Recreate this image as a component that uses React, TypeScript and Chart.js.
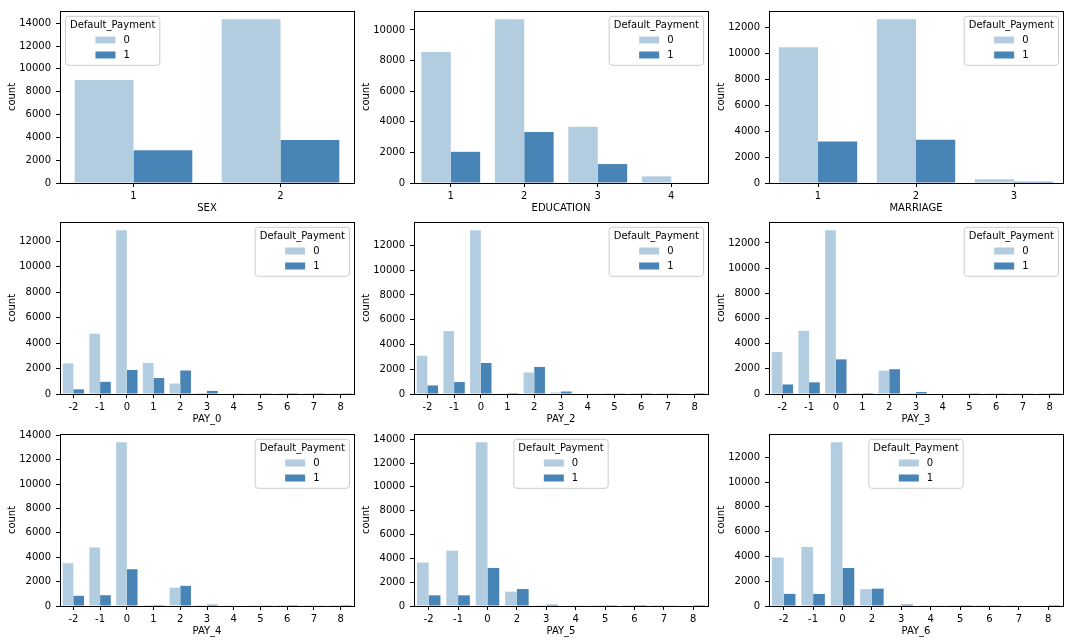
import React, { useEffect, useRef } from "react";
import { Chart, registerables } from "chart.js";

Chart.register(...registerables);

// ---------- data ----------
const sexCats = ["1", "2"];
const sex0 = [9015, 14349];
const sex1 = [2873, 3763];

const eduCats = ["1", "2", "3", "4"];
const edu0 = [8549, 10700, 3680, 435];
const edu1 = [2036, 3330, 1237, 33];

const marCats = ["1", "2", "3"];
const mar0 = [10453, 12623, 288];
const mar1 = [3206, 3341, 89];

const payCatsFull = ["-2", "-1", "0", "1", "2", "3", "4", "5", "6", "7", "8"];
const payCatsNo1 = ["-2", "-1", "0", "2", "3", "4", "5", "6", "7", "8"];

const pay0_0 = [2394, 4732, 12849, 2436, 823, 78, 24, 13, 6, 2, 8];
const pay0_1 = [365, 954, 1888, 1252, 1844, 244, 52, 13, 5, 7, 11];

const pay2_0 = [3091, 5084, 13227, 23, 1743, 125, 49, 10, 3, 2, 0];
const pay2_1 = [691, 966, 2503, 5, 2184, 201, 50, 15, 9, 18, 1];

const pay3_0 = [3328, 5012, 13013, 2, 1850, 78, 33, 9, 5, 5, 1];
const pay3_1 = [757, 926, 2751, 2, 1969, 162, 43, 12, 18, 22, 2];

const pay4_0 = [3511, 4804, 13439, 1, 1506, 70, 23, 15, 1, 3, 1];
const pay4_1 = [837, 883, 3016, 1, 1653, 110, 46, 20, 4, 55, 1];

const pay5_0 = [3651, 4642, 13752, 1203, 65, 33, 6, 1, 3, 0];
const pay5_1 = [895, 897, 3195, 1423, 113, 51, 11, 3, 55, 1];

const pay6_0 = [3914, 4765, 13217, 1365, 66, 18, 6, 5, 8, 0];
const pay6_1 = [981, 975, 3069, 1401, 118, 31, 7, 14, 38, 2];

const hueLabels = ["0", "1"];
const legendTitle = "Default_Payment";
const yTitle = "count";
const yTickStep = 2000;

const COLORS = ["#b3cde0", "#4884b5"];
const FONT = "DejaVu Sans";

type Panel = {
  label: string;
  cats: string[];
  s0: number[];
  s1: number[];
  legend: "ul" | "ur" | "uc";
};

const panels: Panel[] = [
  { label: "SEX", cats: sexCats, s0: sex0, s1: sex1, legend: "ul" },
  { label: "EDUCATION", cats: eduCats, s0: edu0, s1: edu1, legend: "ur" },
  { label: "MARRIAGE", cats: marCats, s0: mar0, s1: mar1, legend: "ur" },
  { label: "PAY_0", cats: payCatsFull, s0: pay0_0, s1: pay0_1, legend: "ur" },
  { label: "PAY_2", cats: payCatsFull, s0: pay2_0, s1: pay2_1, legend: "ur" },
  { label: "PAY_3", cats: payCatsFull, s0: pay3_0, s1: pay3_1, legend: "ur" },
  { label: "PAY_4", cats: payCatsFull, s0: pay4_0, s1: pay4_1, legend: "ur" },
  { label: "PAY_5", cats: payCatsNo1, s0: pay5_0, s1: pay5_1, legend: "uc" },
  { label: "PAY_6", cats: payCatsNo1, s0: pay6_0, s1: pay6_1, legend: "uc" },
];

// layout (figure pixels)
const AX_LEFTS = [60, 414, 769];
const AX_TOPS = [7, 218, 430];
const AX_W = 294;
const AX_H = 176;
const Y_W = 54;
const X_H = 31;
const PAD_TOP = 7;
const PAD_RIGHT = 6;

const frameLegendPlugin = {
  id: "frameLegend",
  afterDraw(chart: any) {
    const { ctx, chartArea } = chart;
    const loc = chart.options.plugins.frameLegend.loc as string;
    ctx.save();
    // axes frame
    ctx.strokeStyle = "#000";
    ctx.lineWidth = 1;
    ctx.strokeRect(
      Math.round(chartArea.left) + 0.5,
      Math.round(chartArea.top) + 0.5,
      Math.round(chartArea.right) - Math.round(chartArea.left),
      Math.round(chartArea.bottom) - Math.round(chartArea.top)
    );
    // legend
    ctx.font = `10px "${FONT}"`;
    const titleW = ctx.measureText(legendTitle).width;
    const bw = titleW + 9;
    const bh = 49;
    let bx: number;
    if (loc === "ul") bx = chartArea.left + 5.5;
    else if (loc === "ur") bx = chartArea.right - 4.5 - bw;
    else bx = (chartArea.left + chartArea.right) / 2 - bw / 2;
    const by = chartArea.top + 5.3;
    const r = 3;
    ctx.beginPath();
    ctx.moveTo(bx + r, by);
    ctx.lineTo(bx + bw - r, by);
    ctx.quadraticCurveTo(bx + bw, by, bx + bw, by + r);
    ctx.lineTo(bx + bw, by + bh - r);
    ctx.quadraticCurveTo(bx + bw, by + bh, bx + bw - r, by + bh);
    ctx.lineTo(bx + r, by + bh);
    ctx.quadraticCurveTo(bx, by + bh, bx, by + bh - r);
    ctx.lineTo(bx, by + r);
    ctx.quadraticCurveTo(bx, by, bx + r, by);
    ctx.closePath();
    ctx.fillStyle = "rgba(255,255,255,0.8)";
    ctx.fill();
    ctx.strokeStyle = "#cccccc";
    ctx.stroke();

    const cx = bx + bw / 2;
    ctx.fillStyle = "#000";
    ctx.textBaseline = "middle";
    ctx.textAlign = "center";
    ctx.fillText(legendTitle, cx, by + 9.5);
    const labW = ctx.measureText("0").width;
    const entryW = 20 + 8 + labW;
    const ex = cx - entryW / 2;
    hueLabels.forEach((lab, i) => {
      const cy = by + 23.7 + i * 15;
      ctx.fillStyle = COLORS[i];
      ctx.fillRect(ex, cy - 3.5, 20, 7);
      ctx.fillStyle = "#000";
      ctx.textAlign = "left";
      ctx.fillText(lab, ex + 28, cy + 0.5);
    });
    ctx.restore();
  },
};

function PanelChart({ p, left, top }: { p: Panel; left: number; top: number }) {
  const ref = useRef<HTMLCanvasElement | null>(null);
  const w = Y_W + AX_W + PAD_RIGHT;
  const h = PAD_TOP + AX_H + X_H;
  useEffect(() => {
    if (!ref.current) return;
    const ymax = Math.max(...p.s0, ...p.s1) * 1.05;
    const font = { family: FONT, size: 10 };
    const chart = new Chart(ref.current, {
      type: "bar",
      data: {
        labels: p.cats,
        datasets: [
          { label: hueLabels[0], data: p.s0, backgroundColor: COLORS[0], borderWidth: 0 },
          { label: hueLabels[1], data: p.s1, backgroundColor: COLORS[1], borderWidth: 0 },
        ],
      },
      options: {
        animation: false,
        responsive: false,
        layout: { padding: { top: PAD_TOP, right: PAD_RIGHT, left: 0, bottom: 0 } },
        datasets: { bar: { categoryPercentage: 0.8, barPercentage: 1.0 } },
        plugins: {
          legend: { display: false },
          tooltip: { enabled: false },
          // @ts-ignore
          frameLegend: { loc: p.legend },
        },
        scales: {
          x: {
            grid: {
              display: true,
              drawOnChartArea: false,
              drawTicks: true,
              tickLength: 4,
              tickColor: "#000",
              offset: false,
            },
            border: { display: false },
            ticks: { font, color: "#000", padding: 3, maxRotation: 0, autoSkip: false },
            title: { display: true, text: p.label, font, color: "#000", padding: 0 },
            afterFit: (s: any) => {
              s.height = X_H;
            },
          },
          y: {
            min: 0,
            max: ymax,
            grid: {
              display: true,
              drawOnChartArea: false,
              drawTicks: true,
              tickLength: 4,
              tickColor: "#000",
            },
            border: { display: false },
            ticks: {
              font,
              color: "#000",
              padding: 5,
              autoSkip: false,
              callback: (v: any) => String(Math.round(Number(v))),
            },
            title: { display: true, text: yTitle, font, color: "#000", padding: 0 },
            afterBuildTicks: (s: any) => {
              const t: any[] = [];
              for (let v = 0; v <= s.max; v += yTickStep) t.push({ value: v });
              s.ticks = t;
            },
            afterFit: (s: any) => {
              s.width = Y_W;
            },
          },
        },
      },
      plugins: [frameLegendPlugin],
    } as any);
    return () => chart.destroy();
  }, [p]);
  return (
    <canvas
      ref={ref}
      width={w}
      height={h}
      style={{ position: "absolute", left, top, width: w, height: h }}
    />
  );
}

export default function App() {
  return (
    <div
      style={{
        position: "fixed",
        left: 0,
        top: 0,
        width: 1071,
        height: 644,
        background: "#fff",
        overflow: "hidden",
      }}
    >
      {panels.map((p, i) => {
        const r = Math.floor(i / 3);
        const c = i % 3;
        return (
          <PanelChart
            key={p.label}
            p={p}
            left={AX_LEFTS[c] - Y_W}
            top={AX_TOPS[r] - PAD_TOP}
          />
        );
      })}
    </div>
  );
}
